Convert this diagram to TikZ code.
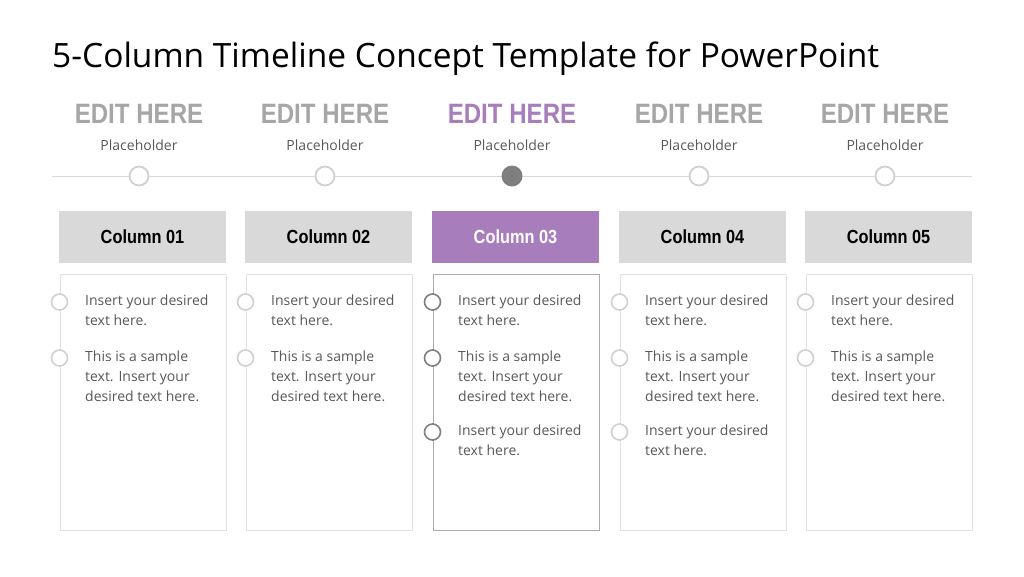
\documentclass[tikz,border=0pt]{standalone}
\usepackage{fontspec}
\setmainfont{Open Sans}
\newfontfamily\condfont{Liberation Sans}[FakeStretch=0.86]
\definecolor{linegray}{HTML}{D9D9D9}
\definecolor{ringgray}{HTML}{D0D0D0}
\definecolor{headgray}{HTML}{D9D9D9}
\definecolor{editgray}{HTML}{A6A6A6}
\definecolor{purp}{HTML}{A77DBB}
\definecolor{textgray}{HTML}{595959}
\definecolor{dotgray}{HTML}{7F7F7F}
\definecolor{cardgray}{HTML}{E2E2E2}
\definecolor{cardact}{HTML}{ABABAB}

\begin{document}
\begin{tikzpicture}[x=1pt,y=-1pt,
    title/.style={font=\fontsize{33.5}{36}\selectfont, text=black, anchor=base west, inner sep=0},
    edit/.style={font=\condfont\bfseries\fontsize{28}{30}\selectfont, text=editgray, inner sep=0},
    editact/.style={edit, text=purp},
    place/.style={font=\fontsize{14}{16}\selectfont, text=textgray, inner sep=0},
    dot/.style={circle, draw=ringgray, line width=1.8pt, fill=white, minimum size=19pt, inner sep=0},
    dotact/.style={circle, fill=dotgray, minimum size=21pt, inner sep=0},
    head/.style={rectangle, fill=headgray, minimum width=167pt, minimum height=52pt, inner sep=0,
        font=\condfont\bfseries\fontsize{19}{20}\selectfont, text=black},
    headact/.style={head, fill=purp, text=white},
    card/.style={rectangle, draw=cardgray, line width=1pt, fill=white, minimum width=166pt, minimum height=256pt, inner sep=0},
    cardact/.style={card, draw=cardact},
    bullet/.style={circle, draw=ringgray, line width=1.6pt, fill=white, minimum size=16pt, inner sep=0},
    bulletact/.style={bullet, draw=dotgray},
    itemtxt/.style={font=\fontsize{14}{20}\selectfont, text=textgray, anchor=north west, align=left, inner sep=0}
]
    \fill[white] (0,0) rectangle (1024,576);
    \useasboundingbox (0,0) rectangle (1024,576);

    \node[title] (title) at (52,67) {5-Column Timeline Concept Template for PowerPoint};

    % timeline
    \coordinate (tl-a) at (52,176);
    \coordinate (tl-b) at (972,176);
    \draw[linegray, line width=1pt] (tl-a) -- (tl-b);

    % columns: index / centre / styles / number of items
    \foreach \i/\cx/\es/\ds/\hs/\cs/\bs/\n in {1/139/edit/dot/head/card/bullet/2,
        2/325/edit/dot/head/card/bullet/2, 3/512/editact/dotact/headact/cardact/bulletact/3,
        4/699/edit/dot/head/card/bullet/3, 5/885/edit/dot/head/card/bullet/2}{
        \node[\es] (edit\i) at (\cx,114) {EDIT HERE};
        \node[place] (ph\i) at (\cx,145) {Placeholder};
        \node[\ds] (dot\i) at (\cx,176) {};
        \node[\hs] (head\i) at (\cx+3.5,237) {Column 0\i};
        \node[\cs] (card\i) at (\cx+4,402) {};
        \foreach \k/\by/\txt in {1/302/{Insert your desired\\text here.},
            2/358/{This is a sample\\text. Insert your\\desired text here.},
            3/432/{Insert your desired\\text here.}}{
            \ifnum\k>\n\relax\else
                \node[\bs] (b\i-\k) at (card\i.west |- 0,\by) {};
                \node[itemtxt] (t\i-\k) at (\cx-54,\by-7) {\txt};
            \fi
        }
    }
\end{tikzpicture}
\end{document}
